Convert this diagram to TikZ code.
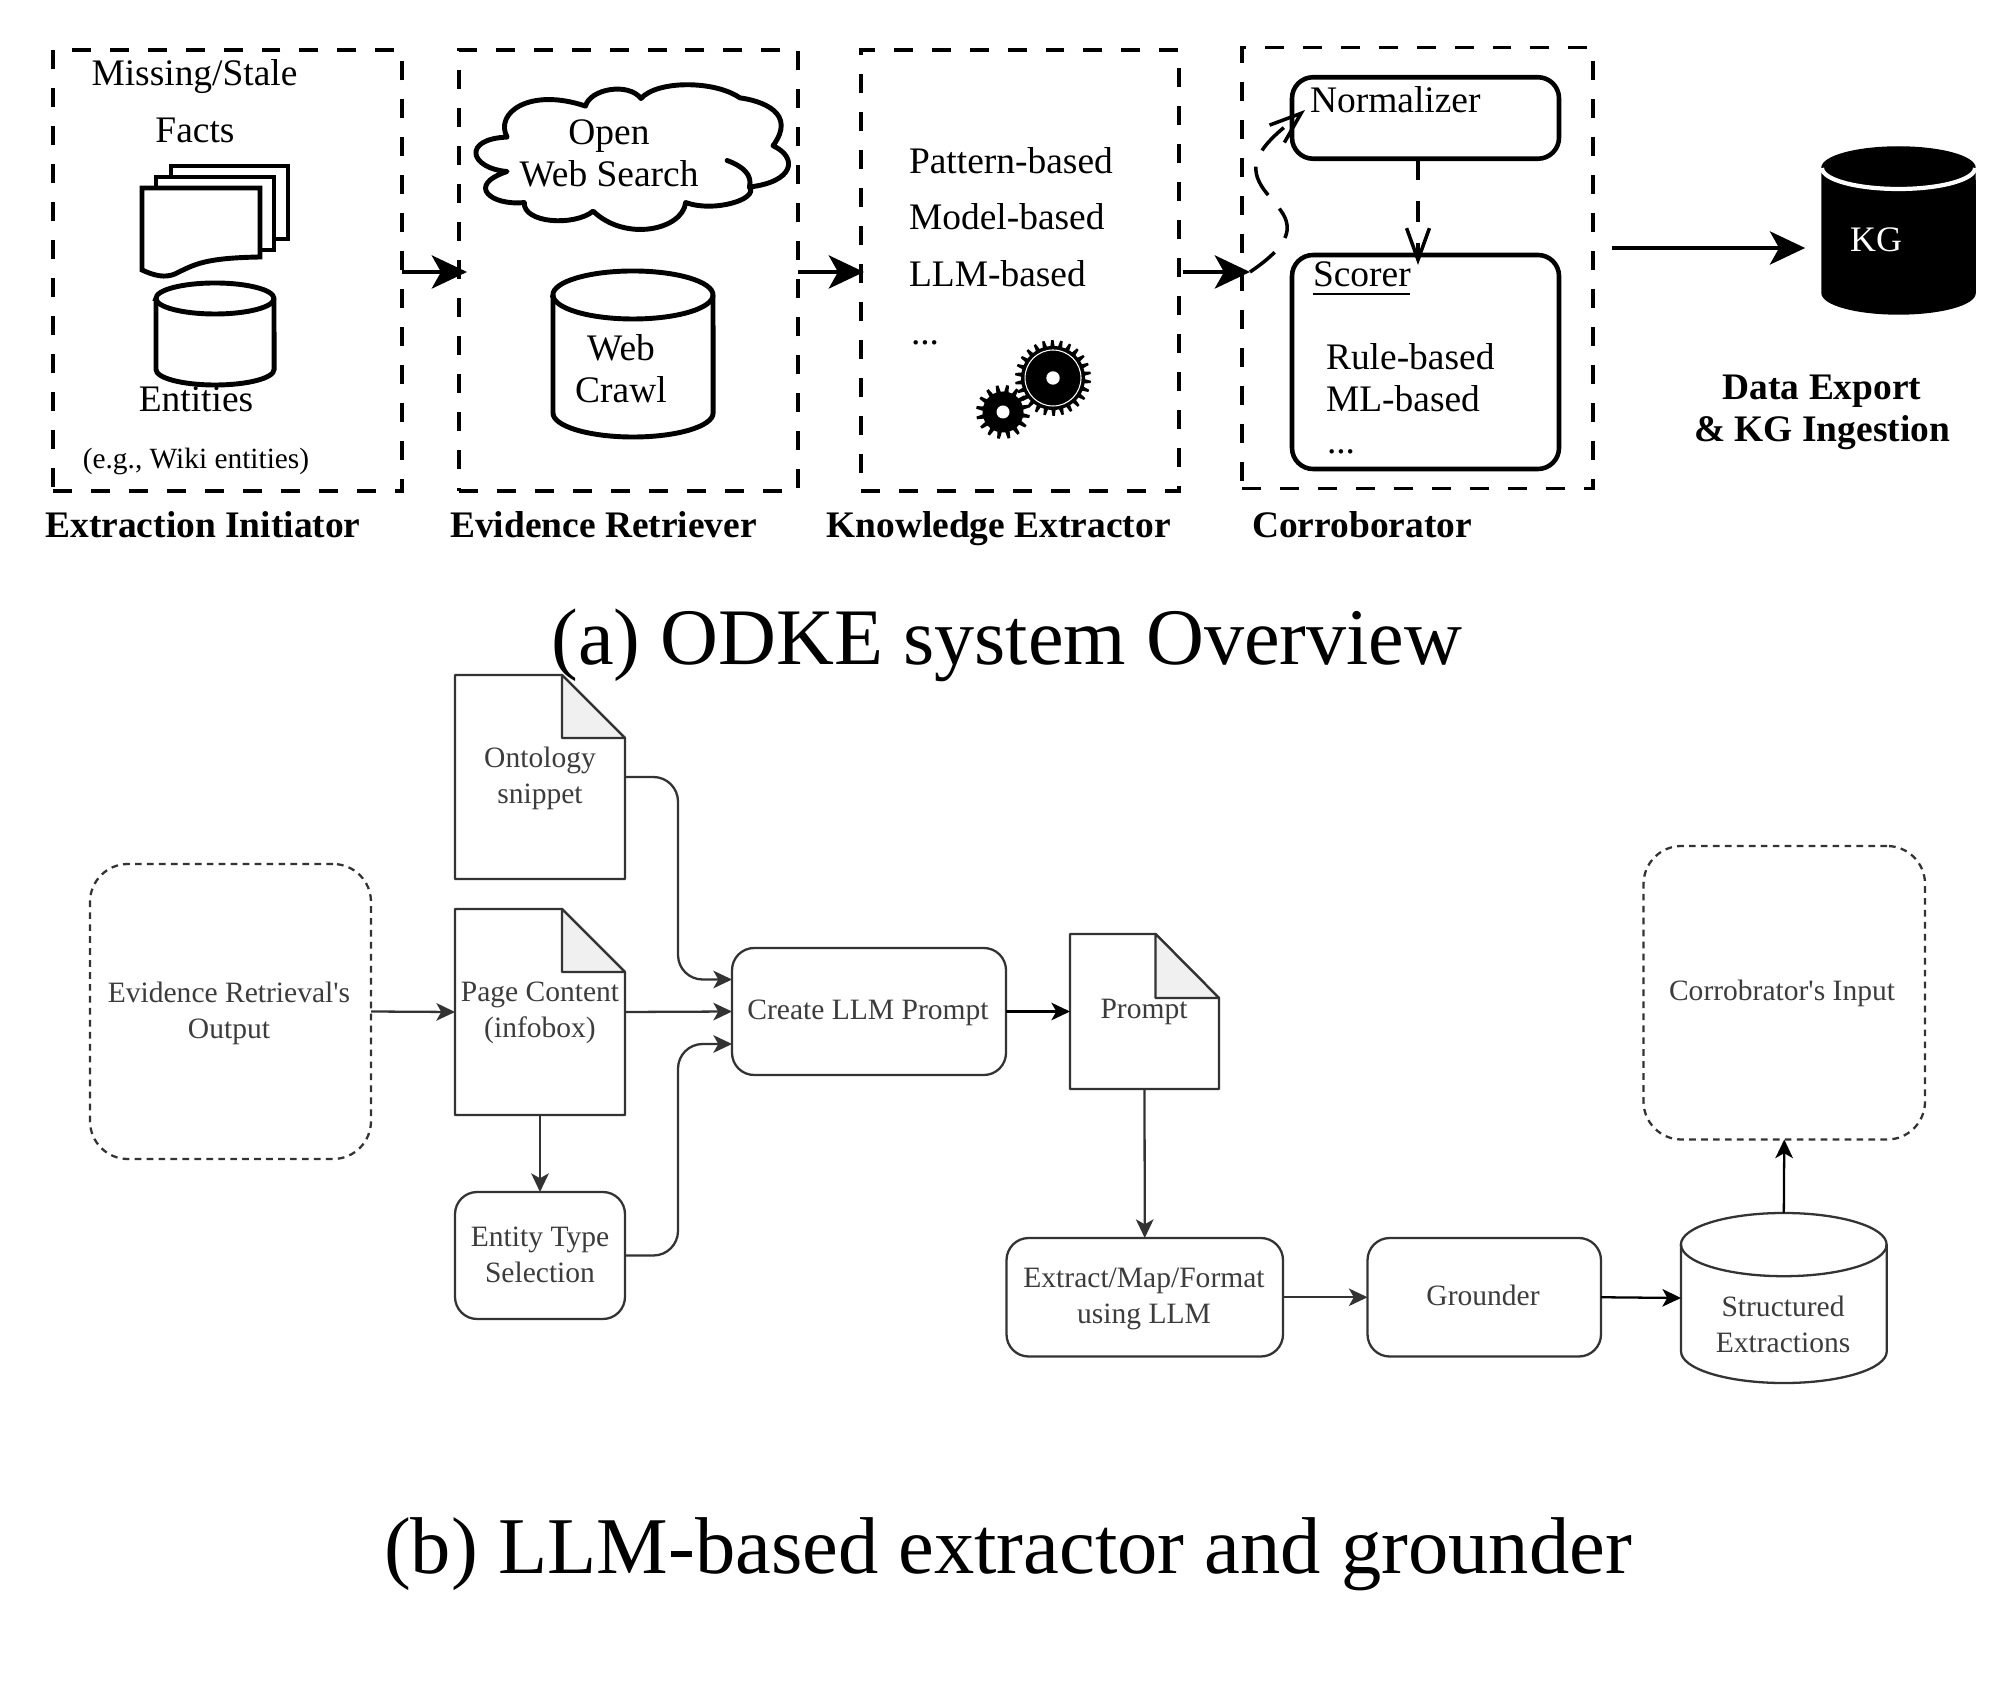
\documentclass[tikz,border=0pt]{standalone}
\usepackage{fontspec}
\setmainfont[Ligatures=TeXOff]{Liberation Serif}
\usetikzlibrary{arrows.meta,calc}
\definecolor{lowline}{HTML}{333333}
\definecolor{lowtext}{HTML}{3C3C3C}
\definecolor{foldfill}{HTML}{F0F0F0}
\newcommand\cyl[7]{% name x1 y1 x2 y2 ry style
  \pgfmathsetmacro\cxm{(#2+#4)/2}\pgfmathsetmacro\cym{(#3+#5)/2}
  \pgfmathsetmacro\cw{#4-#2}\pgfmathsetmacro\ch{#5-#3}
  \pgfmathsetmacro\crx{(#4-#2)/2*0.28453}\pgfmathsetmacro\cry{#6*0.28453}
  \pgfmathsetmacro\ctop{#3+#6}\pgfmathsetmacro\cbot{#5-#6}
  \node[anchor box,wh={\cw}{\ch}] (#1) at (\cxm,\cym) {};
  \path[#7] (#2,\ctop) -- (#2,\cbot) arc[start angle=180,end angle=360,x radius=\crx pt,y radius=\cry pt]
     -- (#4,\ctop) arc[start angle=0,end angle=180,x radius=\crx pt,y radius=\cry pt] -- cycle;
}
\newcommand\gear[6]{% cx cy router rroot teeth rhole
  \begin{scope}[shift={(#1,#2)}]
  \pgfmathsetmacro\gs{360/#5}
  \fill[black] (0:#4) \foreach \gi in {1,...,#5}{
     -- ({(\gi-1)*\gs+0.16*\gs}:#4) -- ({(\gi-1)*\gs+0.30*\gs}:#3) -- ({(\gi-1)*\gs+0.56*\gs}:#3)
     -- ({(\gi-1)*\gs+0.70*\gs}:#4) -- ({\gi*\gs}:#4)} -- cycle;
  \fill[white] (0,0) circle[radius=#6];
  \end{scope}
}
\tikzset{
  wh/.style 2 args={minimum width=#1*0.01cm,minimum height=#2*0.01cm},
  anchor box/.style={rectangle,inner sep=0pt,outer sep=0pt},
  stage/.style={anchor box,draw=black,line width=1pt,dash pattern=on 5.4pt off 5.4pt},
  inner round/.style={anchor box,draw=black,line width=1.3pt,rounded corners=6pt},
  icon line/.style={draw=black,line width=1.4pt,fill=white},
  body/.style={inner sep=0pt,outer sep=0pt,anchor=base,yshift=-0.02cm,font=\fontsize{10.65}{12}\selectfont},
  bodyl/.style={body,anchor=base west},
  head/.style={body,font=\fontsize{10.65}{12}\selectfont\bfseries},
  caption text/.style={body,font=\fontsize{22.8}{26}\selectfont},
  flow/.style={-{Stealth[length=10pt,width=9.4pt,inset=2.6pt]},line width=1.3pt,black},
  dflow/.style={-{Straight Barb[length=9pt,width=6.5pt]},line width=1pt,black,dash pattern=on 6pt off 6pt},
  dcurve/.style={dflow,dash pattern=on 9pt off 5pt},
  low/.style={anchor box,draw=lowline,line width=0.65pt,text=lowtext,align=center,font=\fontsize{8.4}{10.2}\selectfont},
  lowr/.style={low,rounded corners=6.3pt},
  lowd/.style={low,rounded corners=10.8pt,dash pattern=on 1.9pt off 1.5pt},
  lowt/.style={inner sep=0pt,outer sep=0pt,text=lowtext,align=center,font=\fontsize{8.4}{10.2}\selectfont},
  lowa/.style={-{Stealth[length=5.3pt,width=5pt,inset=1.4pt]},line width=0.65pt,lowline},
  lowc/.style={lowa,rounded corners=7pt},
}
\begin{document}
\begin{tikzpicture}[x=0.01cm,y=-0.01cm]
\useasboundingbox (0,0) rectangle (2016,1683);
\fill[white] (0,0) rectangle (2016,1683);
% --- stage frames
\node[stage,wh={349}{441}] (s1) at (227.5,270.5) {};
\node[stage,wh={339}{441}] (s2) at (628.5,270.5) {};
\node[stage,wh={318}{441}] (s3) at (1020,270.5) {};
\node[stage,wh={351}{441}] (s4) at (1417.5,268) {};
% --- stage 1
\node[body] (t1) at (194.5,84) {Missing/Stale};
\node[body] (t2) at (195,140.5) {Facts};
\begin{scope}[line join=miter]
\draw[icon line] (171,166) rectangle (288,239);
\draw[icon line] (156,177) rectangle (274,250);
\draw[icon line] (142,188) -- (142,270) .. controls (155,276) and (165,278) .. (175,274) .. controls (195,264) and (205,258) .. (260,257) -- (260,188) -- cycle;
\end{scope}
\cyl{c1}{156}{283}{274}{385}{15.5}{icon line}
\draw[line width=1.4pt] (156,298.5) arc[start angle=180,end angle=360,x radius=59*0.01cm,y radius=15.5*0.01cm];
\node[body] (t3) at (196,410) {Entities};
\node[body,font=\fontsize{8.35}{10}\selectfont] (t4) at (196,467) {(e.g., Wiki entities)};
\node[head] (h1) at (203,536) {Extraction Initiator};
% --- stage 2: cloud
\begin{scope}[x=0.6378*0.01cm,y=-0.3444*0.01cm,yshift=-0.2cm]
\draw[icon line,line join=round]
 (795,340) .. controls (775,270) and (830,195) .. (918,250)
 .. controls (925,200) and (985,180) .. (1005,228)
 .. controls (1030,175) and (1120,175) .. (1160,226)
 .. controls (1195,235) and (1250,270) .. (1212,365)
 .. controls (1252,400) and (1245,470) .. (1175,485)
 .. controls (1190,520) and (1120,560) .. (1075,530)
 .. controls (1070,610) and (980,645) .. (930,555)
 .. controls (900,600) and (820,590) .. (822,530)
 .. controls (770,540) and (730,480) .. (795,440)
 .. controls (735,430) and (725,345) .. (795,340) -- cycle;
\draw[line width=1.4pt,line cap=round] (1175,485) .. controls (1180,450) and (1165,425) .. (1140,408);
\end{scope}
\node[body] (t5) at (609,143) {Open};
\node[body] (t6) at (609,185) {Web Search};
\cyl{c2}{553}{271}{713}{437}{24}{icon line}
\draw[line width=1.4pt] (553,295) arc[start angle=180,end angle=360,x radius=80*0.01cm,y radius=24*0.01cm];
\node[body] (t7) at (621,359) {Web};
\node[body] (t8) at (621,400.5) {Crawl};
\node[head] (h2) at (603.5,536) {Evidence Retriever};
% --- stage 3
\node[bodyl] (t9) at (909,171.5) {Pattern-based};
\node[bodyl] (t10) at (909,228) {Model-based};
\node[bodyl] (t11) at (909,284.5) {LLM-based};
\node[bodyl] (t12) at (911,342.6) {...};
\gear{1053}{378}{38}{32}{26}{6.7}
\draw[white,line width=0.3pt] (1053,378) circle[radius=28];
\gear{1003}{412}{27}{20.5}{16}{6.5}
\node[head] (h3) at (998.5,536) {Knowledge Extractor};
% --- stage 4
\node[inner round,wh={267}{81.5}] (norm) at (1425.5,118) {};
\node[inner round,wh={267}{214}] (score) at (1425.5,362) {};
\node[bodyl] (t13) at (1310,111) {Normalizer};
\node[bodyl] (t14) at (1313,285) {Scorer};
\draw[line width=0.6pt] (1313,294) -- (1410,294);
\node[bodyl] (t15) at (1326,368) {Rule-based};
\node[bodyl] (t16) at (1326,410) {ML-based};
\node[bodyl] (t17) at (1327,451.5) {...};
\node[head] (h4) at (1362,536) {Corroborator};
\coordinate (normin) at (1305,110);
\coordinate (s3mid) at (1250,272);
\draw[dcurve] (s3mid) .. controls (1275,255) and (1289,240) .. (1287,225)
   .. controls (1285,205) and (1253,190) .. (1256,165) .. controls (1259,145) and (1285,127) .. (normin);
\coordinate (scoreTip) at (1418,265);
\draw[dflow] (norm.south -| scoreTip) -- (scoreTip);
% --- KG
\cyl{kg}{1822}{147}{1975}{314}{21}{draw=black,fill=black}
\draw[white,line width=1.2pt] (1822,168) arc[start angle=180,end angle=360,x radius=76.5*0.01cm,y radius=21*0.01cm];
\node[body,text=white,font=\fontsize{10.2}{11}\selectfont] (tkg) at (1876,250) {KG};
\node[head] (h5) at (1822,398) {Data Export};
\node[head] (h6) at (1822,440) {\& KG Ingestion};
% --- stage arrows
\coordinate (a1) at (402,272);
\coordinate (a2) at (798,272);
\coordinate (a3) at (1183,272);
\draw[flow] (s1.east |- a1) -- (s2.west |- a1) -- ++(8,0);
\draw[flow] (s2.east |- a2) -- (s3.west |- a2) -- ++(3,0);
\draw[flow] (a3) -- (s4.west |- a3) -- ++(8,0);
\coordinate (ka) at (1612,248);
\draw[flow,shorten >=4.8pt] (ka) -- (kg.west |- ka);
\node[caption text] (cap1) at (1007,663) {(a) ODKE system Overview};
% --- lower diagram
\node[lowd,wh={281}{295},text=lowtext] (evi) at (230.5,1011.5) {};
\node[lowt] (levi) at (229,1013) {Evidence Retrieval's\\Output};
\node[anchor box,wh={170}{204}] (ont) at (540,777) {};
\node[anchor box,wh={170}{206}] (pag) at (540,1012) {};
\node[anchor box,wh={149}{155}] (pro) at (1144.5,1011.5) {};
\foreach \dn/\fx/\fy in {ont/562/738,pag/562/972,pro/1155.5/998}{
  \draw[draw=lowline,line width=0.65pt,fill=white,line join=round]
    (\dn.north west) -- (\dn.north west -| \fx,0) -- (\dn.east |- 0,\fy) -- (\dn.south east) -- (\dn.south west) -- cycle;
  \draw[draw=lowline,line width=0.65pt,fill=foldfill,line join=round]
    (\dn.north west -| \fx,0) -- (\dn.east |- 0,\fy) -- (\fx,\fy) -- cycle;
}
\node[lowt] (lont) at (540,778.5) {Ontology\\snippet};
\node[lowt] (lpag) at (540,1013) {Page Content\\(infobox)};
\node[lowt,anchor=mid] (lpro) at (1144,1010) {Prompt};
\node[lowr,wh={170}{127}] (ent) at (540,1255.5) {};
\node[lowt] (lent) at (540,1254.5) {Entity Type\\Selection};
\node[lowr,wh={274}{127}] (cre) at (869,1011.5) {};
\node[lowt] (lcre) at (868,1013) {Create LLM Prompt};
\node[lowr,wh={276.5}{118.5}] (ext) at (1144.75,1297.25) {};
\node[lowt] (lext) at (1144,1299) {Extract/Map/Format\\using LLM};
\node[lowr,wh={233.5}{118.5}] (gro) at (1484.25,1297.25) {};
\node[lowt] (lgro) at (1483,1295) {Grounder};
\cyl{scy}{1681}{1213}{1886.6}{1383}{31.6}{draw=lowline,line width=0.65pt,fill=white}
\draw[lowline,line width=0.65pt] (1681,1244.6) arc[start angle=180,end angle=360,x radius=102.8*0.01cm,y radius=31.6*0.01cm];
\node[lowt] (lscy) at (1783,1324) {Structured\\Extractions};
\node[lowd,wh={281.5}{293.5}] (cor) at (1784.25,992.75) {};
\node[lowt,anchor=mid] (lcor) at (1782,992.5) {Corrobrator's Input};
\coordinate (c1) at (732,979.5);
\coordinate (c3) at (732,1044);
\coordinate (vx) at (678,1012);
\draw[lowa] (evi.east) -- (pag.west);
\draw[lowa] (pag.east) -- (cre.west);
\draw[lowa] (pag.south) -- (ent.north);
\draw[lowc] (ont.east) -- (ont.east -| vx) -- (vx |- c1) -- (c1);
\draw[lowc] (ent.east) -- (ent.east -| vx) -- (vx |- c3) -- (c3);
\draw[lowa,black] (cre.east) -- (pro.west);
\draw[lowa] (pro.south) -- (ext.north);
\draw[lowa] (ext.east) -- (gro.west);
\draw[lowa,black] (gro.east) -- (scy.west);
\draw[lowa,black] (scy.north) -- (cor.south);
\node[caption text,font=\fontsize{22.9}{26}\selectfont] (cap2) at (1008,1571.5) {(b) LLM-based extractor and grounder};
\end{tikzpicture}
\end{document}
